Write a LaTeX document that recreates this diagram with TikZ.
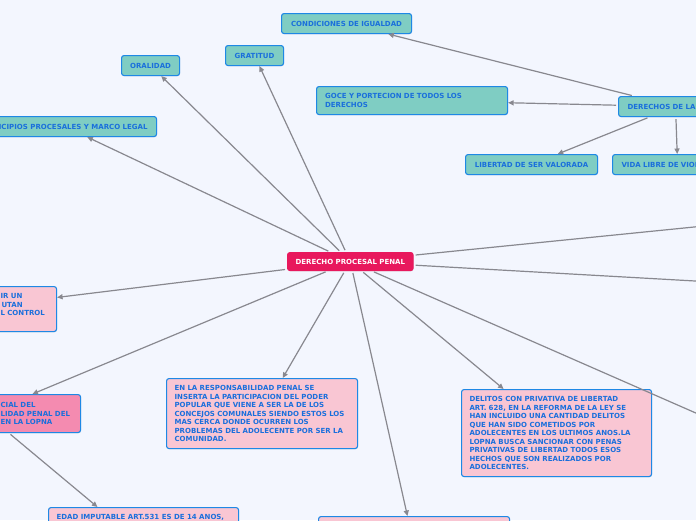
\documentclass[tikz,border=0pt]{standalone}
\usepackage{fontspec}
\setmainfont{DejaVu Sans}
\usetikzlibrary{arrows.meta,shadows}
\definecolor{bgc}{HTML}{F3F6FE}
\definecolor{tealc}{HTML}{7FCDC3}
\definecolor{bordc}{HTML}{1E88E5}
\definecolor{txtc}{HTML}{1A6FDC}
\definecolor{pinkc}{HTML}{F9C6D3}
\definecolor{pinkd}{HTML}{F48BB0}
\definecolor{mainc}{HTML}{E8185D}
\definecolor{edgec}{HTML}{88888F}
\tikzset{
 mbox/.style={draw=bordc, line width=1.1pt, rounded corners=2.5pt, fill=tealc, text=txtc,
   font=\bfseries\fontsize{7}{8.5}\selectfont, inner xsep=8pt, inner ysep=0pt,
   anchor=north west, minimum height=20pt,
   drop shadow={shadow xshift=0.5pt, shadow yshift=-0.8pt, opacity=0.18}},
 tbox/.style={mbox, fill=pinkc, align=left},
 link/.style={draw=edgec, line width=1.2pt, -{Triangle[length=5.5pt,width=5pt]}, shorten <=2pt},
 plain/.style={draw=edgec, line width=1.2pt, shorten <=2pt},
}
\begin{document}
\begin{tikzpicture}[x=1pt,y=-1pt]
\useasboundingbox (0,0) rectangle (696,520);
\fill[bgc] (0,0) rectangle (696,520);

% top teal boxes
\node[mbox, minimum width=130pt] (cond) at (281,13) {CONDICIONES DE IGUALDAD};
\node[mbox, minimum width=58pt] (grat) at (225,45) {GRATITUD};
\node[mbox, minimum width=58pt] (oral) at (121,55) {ORALIDAD};
\node[mbox, minimum width=183pt] (princ) at (-27,116) {PRINCIPIOS PROCESALES Y MARCO LEGAL};
\node[mbox, text width=174pt, align=left, inner xsep=8.5pt, minimum height=28pt] (goce) at (316,86) {GOCE Y PORTECION DE TODOS LOS\\DERECHOS};
\node[mbox, text width=96pt, align=left, inner xsep=9pt] (dere) at (618,96) {DERECHOS DE LA};
\node[mbox, minimum width=132pt] (libe) at (465,154) {LIBERTAD DE SER VALORADA};
\node[mbox, text width=112pt, align=left, inner xsep=9pt] (vida) at (612,154) {VIDA LIBRE DE VIOLENCIA};

% central node
\node[mbox, fill=mainc, draw=mainc, text=white, minimum width=123pt, minimum height=18pt] (main) at (287,252) {DERECHO PROCESAL PENAL};

% pink boxes
\node[tbox, text width=174pt, minimum height=45pt] (p1) at (-134,286)
 {\hspace*{126pt}IR UN\\\hspace*{127pt}UTAN\\\hspace*{126pt}L CONTROL\\\mbox{}};
\node[tbox, fill=pinkd, text width=174pt, minimum height=38pt] (p2) at (-110,394)
 {\hspace*{102pt}CIAL DEL\\\hspace*{102pt}LIDAD PENAL DEL\\\hspace*{102pt}EN LA LOPNA};
\node[tbox, text width=175pt, minimum height=70pt] (resp) at (166,378)
 {EN LA RESPONSABILIDAD PENAL SE\\INSERTA LA PARTICIPACION DEL PODER\\POPULAR QUE VIENE A SER LA DE LOS\\CONCEJOS COMUNALES SIENDO ESTOS LOS\\MAS CERCA DONDE OCURREN LOS\\PROBLEMAS DEL ADOLECENTE POR SER LA\\COMUNIDAD.};
\node[tbox, text width=174pt, minimum height=87pt] (deli) at (461,389)
 {DELITOS CON PRIVATIVA DE LIBERTAD\\ART. 628, EN LA REFORMA DE LA LEY SE\\HAN INCLUIDO UNA CANTIDAD DELITOS\\QUE HAN SIDO COMETIDOS POR\\ADOLECENTES EN LOS ULTIMOS ANOS.LA\\LOPNA BUSCA SANCIONAR CON PENAS\\PRIVATIVAS DE LIBERTAD TODOS ESOS\\HECHOS QUE SON REALIZADOS POR\\ADOLECENTES.};
\node[mbox, fill=pinkc, minimum width=190pt, minimum height=76pt, inner ysep=7pt] (edad) at (48,507)
 {\parbox[c][62pt][t]{174pt}{EDAD IMPUTABLE ART.531 ES DE 14 ANOS,}};
\node[mbox, fill=pinkc, minimum width=191pt, minimum height=58pt] (bott) at (318,516) {};

% free ends off the page
\coordinate (r1) at (720,224.4);
\coordinate (r2) at (720,282.4);
\coordinate (r3) at (720,423.6);

% connectors
\draw[link] (main) -- (princ);
\draw[link] (main) -- (oral);
\draw[link] (main) -- (grat);
\draw[plain] (main) -- (r1);
\draw[plain] (main) -- (r2);
\draw[plain] (main) -- (r3);
\draw[link] (main) -- (p1);
\draw[link] (main) -- (p2);
\draw[link] (main) -- (resp);
\draw[link] (main) -- (bott);
\draw[link] (main) -- (deli);
\draw[link] (p2) -- (edad);
\draw[link] (dere) -- (cond);
\draw[link] (dere) -- (goce);
\draw[link] (dere) -- (libe);
\draw[link] (dere) -- (vida);
\end{tikzpicture}
\end{document}
